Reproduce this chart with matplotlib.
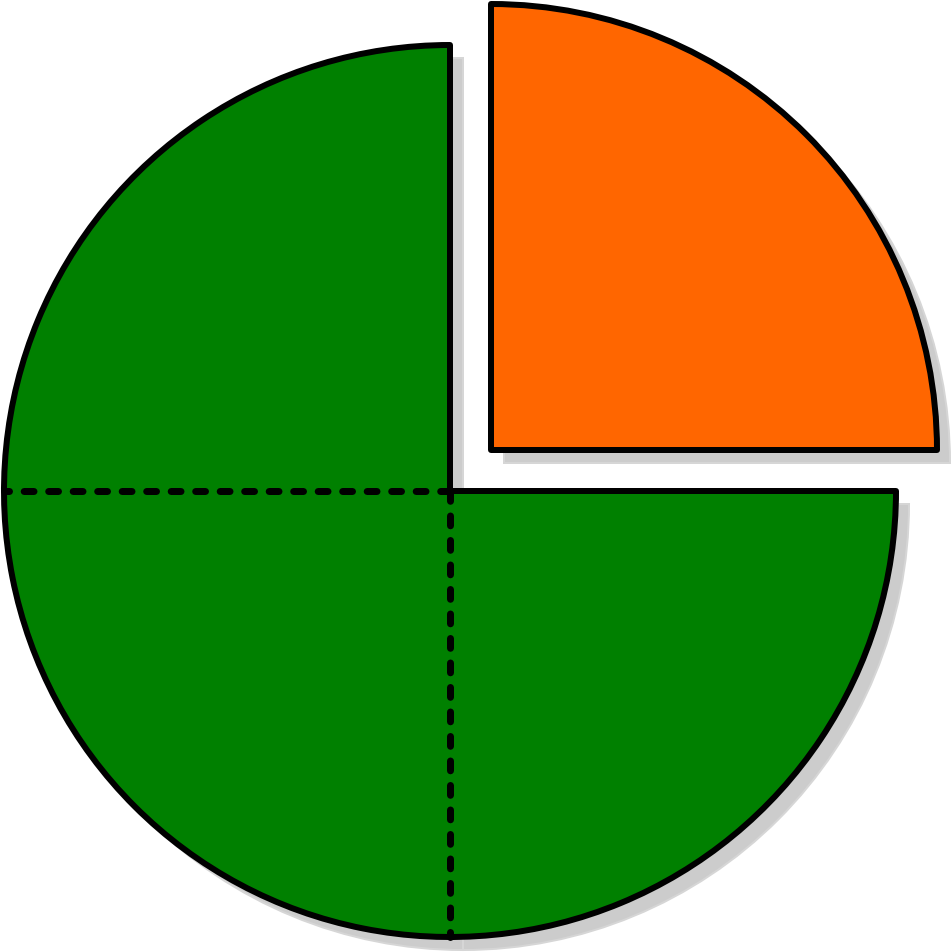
import numpy as np
import matplotlib
matplotlib.use("Agg")
import matplotlib.pyplot as plt
from matplotlib.patches import Wedge

values = [25, 25, 25, 25]
colors = ["#ff6600", "#008000", "#008000", "#008000"]
explode = [0.13, 0, 0, 0]

W = 953
fig = plt.figure(figsize=(W / 100, W / 100), dpi=100)
ax = fig.add_axes([0, 0, 1, 1])
ax.set_xlim(0, W)
ax.set_ylim(0, W)
ax.set_aspect("equal")
ax.axis("off")

cx, cy, r = 450, W - 492, 446
px = 0.72  # points per pixel
lw = 6 * px
shadow_off = (13, -13)

total = sum(values)
angles = np.cumsum([0] + values) / total * 360.0

def center_of(i):
    mid = np.deg2rad((angles[i] + angles[i + 1]) / 2)
    d = explode[i] * r
    return cx + d * np.cos(mid), cy + d * np.sin(mid)

# shadows
for i in range(len(values)):
    c = center_of(i)
    ax.add_patch(Wedge((c[0] + shadow_off[0], c[1] + shadow_off[1]), r,
                       angles[i], angles[i + 1], facecolor="#cccccc",
                       edgecolor="#d6d6d6", lw=2 * px, zorder=1))

# fills
for i in range(len(values)):
    c = center_of(i)
    ax.add_patch(Wedge(c, r, angles[i], angles[i + 1], facecolor=colors[i],
                       edgecolor="none", zorder=2))

# orange outline
c0 = center_of(0)
ax.add_patch(Wedge(c0, r, angles[0], angles[1], facecolor="none",
                   edgecolor="black", lw=lw, joinstyle="round", zorder=4))
# green combined outline
ax.add_patch(Wedge((cx, cy), r, angles[1], angles[4], facecolor="none",
                   edgecolor="black", lw=lw, joinstyle="round", zorder=4))
# dashed internal boundaries between green slices
for a in angles[2:4]:
    t = np.deg2rad(a)
    ax.plot([cx, cx + r * np.cos(t)], [cy, cy + r * np.sin(t)],
            color="black", lw=7 * px, linestyle=(0, (1.4, 2.1)),
            dash_capstyle="round", zorder=3)

fig.savefig("out.png", dpi=100, facecolor="white")
